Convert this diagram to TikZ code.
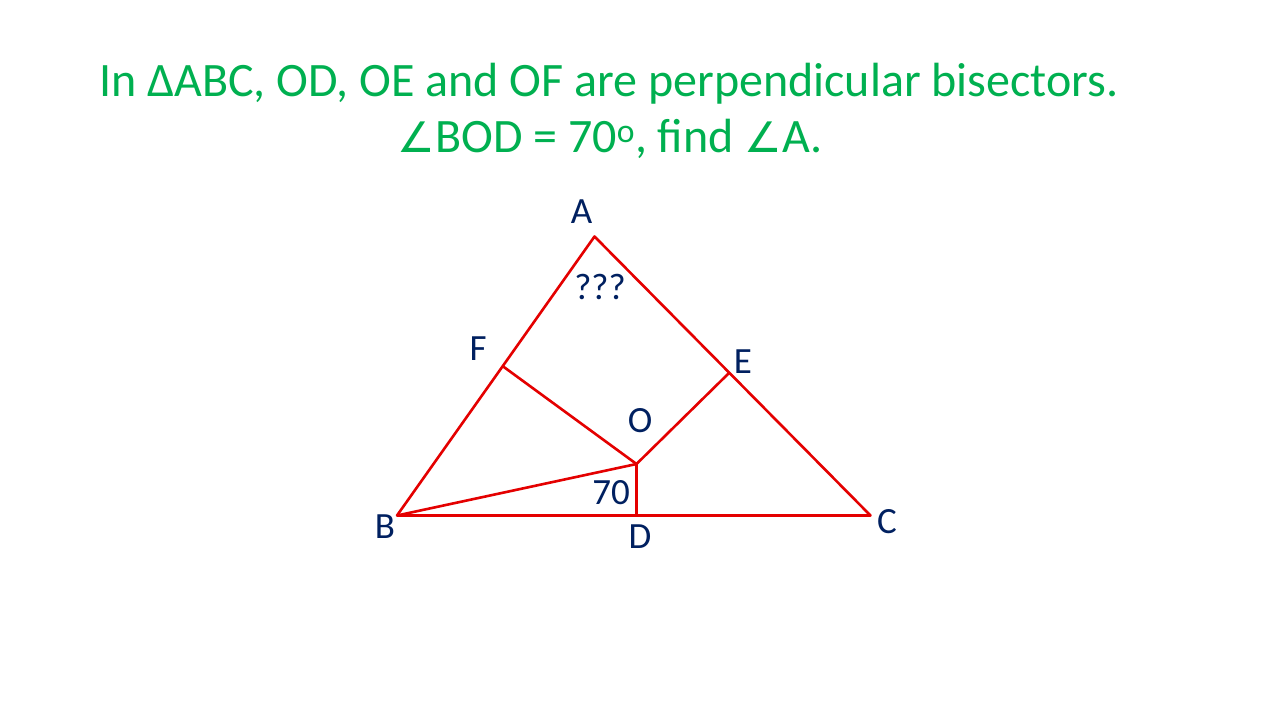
\documentclass[tikz,border=0pt]{standalone}
\usepackage{fontspec}
\setmainfont{Carlito}
\newfontfamily\symfont{DejaVu Sans}
\definecolor{titlegreen}{RGB}{0,176,80}
\definecolor{labelnavy}{RGB}{0,32,96}
\definecolor{linered}{RGB}{228,0,0}
\begin{document}
\begin{tikzpicture}[x=1pt,y=-1pt,
  title/.style={text=titlegreen,font=\fontsize{48}{56}\selectfont,anchor=base,inner sep=0pt},
  lbl/.style={text=labelnavy,font=\fontsize{37}{44}\selectfont,inner sep=0pt},
  edge/.style={draw=linered,line width=2.6pt,line join=round}]
\useasboundingbox (0,0) rectangle (1280,720);
\fill[white] (0,0) rectangle (1280,720);
\node[title] (t1) at (609,96) {In ∆ABC, OD, OE and OF are perpendicular bisectors.};
\node[title] (t2) at (610,152) {{\symfont\fontsize{42}{50}\selectfont ∠}BOD = 70\textsuperscript{o}, find {\symfont\fontsize{42}{50}\selectfont ∠}A.};
\coordinate (A) at (594.5,236.5);
\coordinate (B) at (397,515.5);
\coordinate (C) at (870.5,515.5);
\coordinate (D) at (636.5,515.5);
\coordinate (O) at (636.5,464);
\coordinate (E) at (729,373);
\coordinate (F) at (502.5,366);
\draw[edge] (A) -- (B) -- (C) -- cycle;
\draw[edge] (B) -- (O);
\draw[edge] (O) -- (D);
\draw[edge] (O) -- (E);
\draw[edge] (O) -- (F);
\node[lbl] (lA) at (581.5,212) {A};
\node[lbl] (lB) at (385,527) {B};
\node[lbl] (lC) at (887,522) {C};
\node[lbl] (lD) at (640,537) {D};
\node[lbl] (lE) at (743,362) {E};
\node[lbl] (lF) at (478,349) {F};
\node[lbl] (lO) at (640,421) {O};
\node[lbl] (l70) at (611,493) {70};
\node[lbl] (lq) at (600,287) {???};
\end{tikzpicture}
\end{document}
